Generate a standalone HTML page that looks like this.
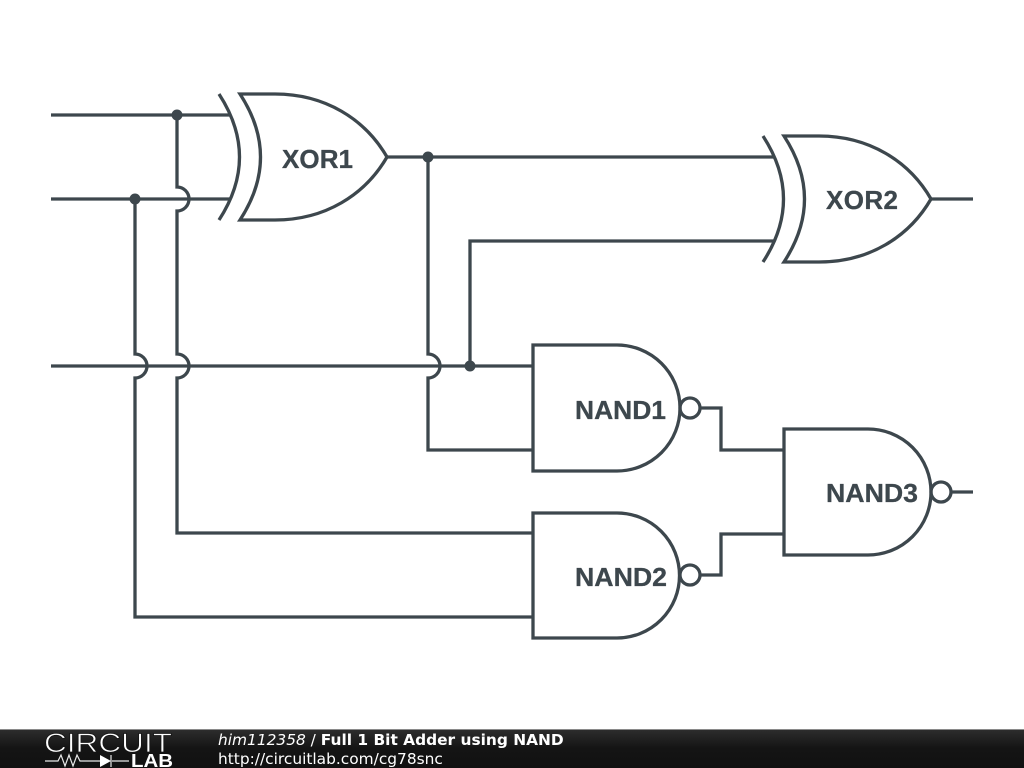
<!DOCTYPE html>
<html><head><meta charset="utf-8"><style>
html,body{margin:0;padding:0;background:#fff;width:1024px;height:768px;overflow:hidden}
svg{display:block}
</style></head><body>
<svg xmlns="http://www.w3.org/2000/svg" width="1024" height="768" viewBox="0 0 1024 768">
<defs><linearGradient id="g" x1="0" y1="0" x2="0" y2="1"><stop offset="0" stop-color="#2e2e2e"/><stop offset="0.5" stop-color="#141414"/><stop offset="1" stop-color="#111"/></linearGradient></defs>
<rect width="1024" height="768" fill="#fff"/>
<g fill="none" stroke="#3d474d" stroke-width="3.3" stroke-linejoin="miter">
<!-- XOR1 -->
<path d="M240,94 Q281,157 240,220 L275,220 C325,220 365,195 387,157 C365,119 325,94 275,94 Z"/>
<path d="M219,94 Q260,157 219,220"/>
<!-- XOR2 -->
<path d="M784,136 Q825,199 784,262 L819,262 C869,262 909,237 931,199 C909,161 869,136 819,136 Z"/>
<path d="M763,136 Q804,199 763,262"/>
<!-- NAND gates -->
<path d="M533,345 H617 A63,63 0 0 1 617,471 H533 Z"/>
<circle cx="690" cy="408" r="10"/>
<path d="M533,513 H617 A62.5,62.5 0 0 1 617,638 H533 Z"/>
<circle cx="690" cy="575" r="10"/>
<path d="M784,429 H868 A63,63 0 0 1 868,555 H784 Z"/>
<circle cx="941" cy="492" r="10"/>
<!-- wires -->
<path d="M51,115 H231"/>
<path d="M51,199 H231"/>
<path d="M387,157 H775"/>
<path d="M470,366 V241 H775"/>
<path d="M931,199 H973"/>
<path d="M51,366 H533"/>
<path d="M177,115 V187 A12,12 0 0 1 177,211 V354 A12,12 0 0 1 177,378 V533 H533"/>
<path d="M135,199 V354 A12,12 0 0 1 135,378 V617 H533"/>
<path d="M428,157 V354 A12,12 0 0 1 428,378 V450 H533"/>
<path d="M700,408 H721 V450 H784"/>
<path d="M700,575 H721 V534 H784"/>
<path d="M951,492 H973"/>
</g>
<g fill="#3d474d">
<circle cx="177" cy="115" r="5.5"/>
<circle cx="135" cy="199" r="5.5"/>
<circle cx="428" cy="157" r="5.5"/>
<circle cx="470" cy="366" r="5.5"/>
</g>
<g font-family="'Liberation Sans',sans-serif" font-weight="bold" font-size="26" fill="#3d474d" stroke="#3d474d" stroke-width="0.3">
<text x="282" y="168" textLength="71">XOR1</text>
<text x="826" y="209" textLength="72">XOR2</text>
<text x="575" y="419" textLength="91" lengthAdjust="spacingAndGlyphs">NAND1</text>
<text x="575" y="586" textLength="92" lengthAdjust="spacingAndGlyphs">NAND2</text>
<text x="826" y="502" textLength="92" lengthAdjust="spacingAndGlyphs">NAND3</text>
</g>
<!-- footer -->
<rect x="0" y="729" width="1024" height="39" fill="url(#g)"/>
<rect x="0" y="729" width="1024" height="1" fill="#8a8a8a"/>
<text x="44" y="752" font-family="'Liberation Sans',sans-serif" font-size="27" fill="#fff" stroke="#161616" stroke-width="0.8" textLength="128" lengthAdjust="spacingAndGlyphs">CIRCUIT</text>
<g fill="none" stroke="#e8e8e8" stroke-width="1.2">
<path d="M45,761 H58 L61,755 L65,766 L69,755 L73,766 L77,755 L80,761 H100"/>
<path d="M112,761 H129"/>
<path d="M111,755 V767"/>
</g>
<path d="M100,755 L111,761 L100,767 Z" fill="#fff"/>
<text x="131" y="767" font-family="'Liberation Sans',sans-serif" font-weight="bold" font-size="18" fill="#fff" textLength="42" lengthAdjust="spacingAndGlyphs">LAB</text>
<g font-family="'DejaVu Sans',sans-serif" font-size="15.4" fill="#fff">
<text x="218" y="745"><tspan font-style="oblique">him112358</tspan><tspan> / </tspan><tspan font-weight="bold">Full 1 Bit Adder using NAND</tspan></text>
<text x="218" y="764">http://circuitlab.com/cg78snc</text>
</g>
</svg>
</body></html>
